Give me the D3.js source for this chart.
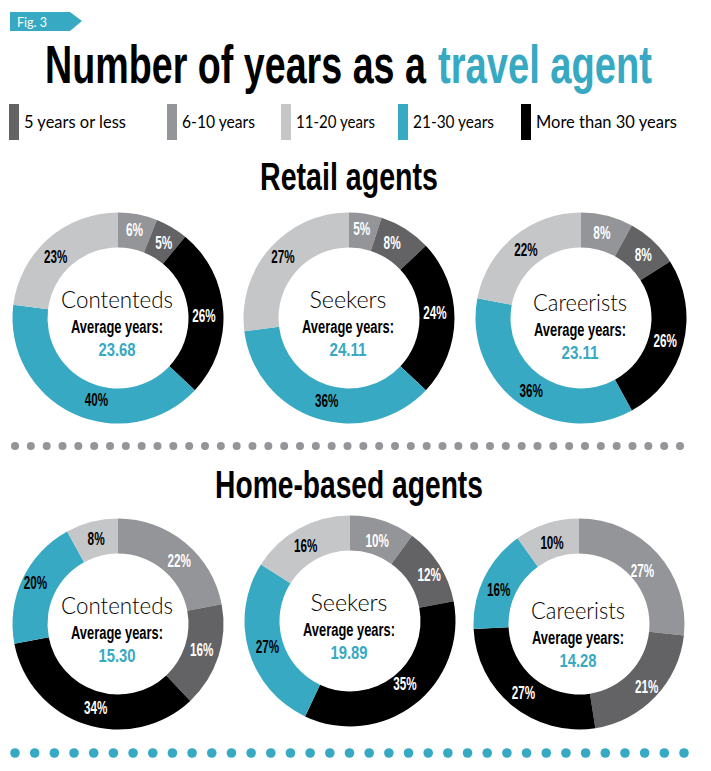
<!DOCTYPE html>
<html>
<head>
<meta charset="utf-8">
<title>Number of years as a travel agent</title>
<script src="https://cdnjs.cloudflare.com/ajax/libs/d3/7.8.5/d3.min.js"></script>
<style>
  html, body { margin: 0; padding: 0; background: #fff; }
  svg { display: block; }
  .narrow { font-family: "Liberation Sans", sans-serif; font-weight: bold; }
  .soft { font-family: Lato, "Open Sans", sans-serif; }
  .thin { font-family: Lato, "Open Sans", sans-serif; font-weight: 300; }
</style>
</head>
<body>
<svg id="chart" width="711" height="771"></svg>
<script>
// categories in the order of the legend
var categories = ["5 years or less", "6-10 years", "11-20 years", "21-30 years", "More than 30 years"]
var colors = ["#636366", "#939598", "#c5c6c8", "#37a9c3", "#000000"]
var labelColors = ["#fff", "#fff", "#000", "#000", "#fff"]

// slices go clockwise from the top in this order
var sliceOrder = ["6-10 years", "5 years or less", "More than 30 years", "21-30 years", "11-20 years"]

var segments = ["Contenteds", "Seekers", "Careerists"]
var retailValues = [[6, 5, 26, 40, 23], [5, 8, 24, 36, 27], [8, 8, 26, 36, 22]]
var retailAverages = ["23.68", "24.11", "23.11"]
var homeValues = [[22, 16, 34, 20, 8], [10, 12, 35, 27, 16], [27, 21, 27, 16, 10]]
var homeAverages = ["15.30", "19.89", "14.28"]

// layout: centre x, centre y, shift of the text inside the ring
var retailCenters = [[118, 318, 0], [349, 318, 0], [581, 318, 3]]
var homeCenters = [[118, 624, 0], [350, 621, 0], [579, 624, 5]]
var legendX = [9, 167, 281, 398, 521]
var legendTextWidth = [102, 73, 79, 81, 141]
var segmentTextWidth = [112, 77, 94]

// labels are not all on the middle of their slice in the original
var retailNudge = [
    [[0, -2], [1, 0], [-2, 3], [16, 2], [-4, 5]],
    [[-1, -3], [-4, -1], [-2, -5], [5, -1], [0, -3]],
    [[-1, 0], [2, 1], [-1, 1], [2, 1], [1, -1]]
]
var homeNudge = [
    [[5, 4], [0, -2], [5, 0], [-3, -4], [0, 0]],
    [[0, 3], [5, 1], [1, -7], [2, 1], [-2, 2]],
    [[-2, 5], [4, 2], [0, 0], [-1, 4], [0, 2]]
]

var svg = d3.select("#chart")

var color = d3.scaleOrdinal().domain(categories).range(colors)
var labelColor = d3.scaleOrdinal().domain(categories).range(labelColors)

// squeeze a text sideways to the width it has in the picture
function squeeze(sel, x, y, width) {
    var natural = sel.node().getComputedTextLength()
    sel.attr("transform", "translate(" + x + "," + y + ") scale(" + (width / natural) + ",1)")
}

function addText(cls, x, y, str, size, width, fill, anchor) {
    var t = svg.append("text")
        .attr("class", cls)
        .attr("font-size", size)
        .attr("fill", fill || "#000")
        .attr("text-anchor", anchor || "middle")
        .text(str)
    squeeze(t, x, y, width)
    return t
}

// fig tag
svg.append("path").attr("d", d3.line()([[10, 12], [70, 12], [82, 21], [70, 31], [10, 31]]) + "Z").attr("fill", "#37a9c3")
addText("soft", 17, 27, "Fig. 3", 13, 30, "#fff", "start")

// title
addText("narrow", 45, 83, "Number of years as a", 54, 381, "#000", "start")
addText("narrow", 438, 83, "travel agent", 54, 214, "#37a9c3", "start")

// legend
categories.forEach(function (c, i) {
    svg.append("rect")
        .attr("x", legendX[i]).attr("y", 104)
        .attr("width", 10).attr("height", 36)
        .attr("fill", color(c))
    addText("soft", legendX[i] + 15, 128, c, 17, legendTextWidth[i], "#000", "start")
})

var pie = d3.pie().sort(null).value(function (d) { return d.value })
var arc = d3.arc().innerRadius(70.5).outerRadius(105.5)

function donut(values, average, name, center, nameWidth, nudge) {
    var data = values.map(function (v, i) { return { key: sliceOrder[i], value: v, nudge: nudge[i] } })
    var g = svg.append("g").attr("transform", "translate(" + center[0] + "," + center[1] + ")")
    var slices = g.selectAll("g").data(pie(data)).enter().append("g")
    slices.append("path")
        .attr("d", arc)
        .attr("fill", function (d) { return color(d.data.key) })
    slices.append("text")
        .attr("class", "narrow")
        .attr("text-anchor", "middle")
        .attr("dy", "0.36em")
        .attr("font-size", 18)
        .attr("fill", function (d) { return labelColor(d.data.key) })
        .text(function (d) { return d.data.value + "%" })
        .each(function (d) {
            var c = arc.centroid(d)
            var w = 6.3 * (String(d.data.value).length + 1) + 4.5
            squeeze(d3.select(this), c[0] + d.data.nudge[0], c[1] + d.data.nudge[1], w)
        })

    var x = center[0], y = center[1] + center[2]
    addText("thin", x - 1, y - 10, name, 24, nameWidth)
    addText("narrow", x - 1, y + 15, "Average years:", 19, 92)
    addText("narrow", x - 1, y + 38, average, 19, 37, "#37a9c3")
}

segments.forEach(function (s, i) {
    donut(retailValues[i], retailAverages[i], s, retailCenters[i], segmentTextWidth[i], retailNudge[i])
    donut(homeValues[i], homeAverages[i], s, homeCenters[i], segmentTextWidth[i], homeNudge[i])
})

// section headings
addText("narrow", 349, 190, "Retail agents", 39, 178)
addText("narrow", 349, 498, "Home-based agents", 39, 268)

// dotted dividers
var grayDots = d3.scalePoint().domain(d3.range(43)).range([15, 680])
svg.selectAll("circle.gray").data(grayDots.domain()).enter().append("circle")
    .attr("class", "gray")
    .attr("cx", function (d) { return grayDots(d) })
    .attr("cy", 446).attr("r", 4).attr("fill", "#939598")

var tealDots = d3.scalePoint().domain(d3.range(35)).range([15, 684])
svg.selectAll("circle.teal").data(tealDots.domain()).enter().append("circle")
    .attr("class", "teal")
    .attr("cx", function (d) { return tealDots(d) })
    .attr("cy", 753).attr("r", 4.8).attr("fill", "#37a9c3")
</script>
</body>
</html>
